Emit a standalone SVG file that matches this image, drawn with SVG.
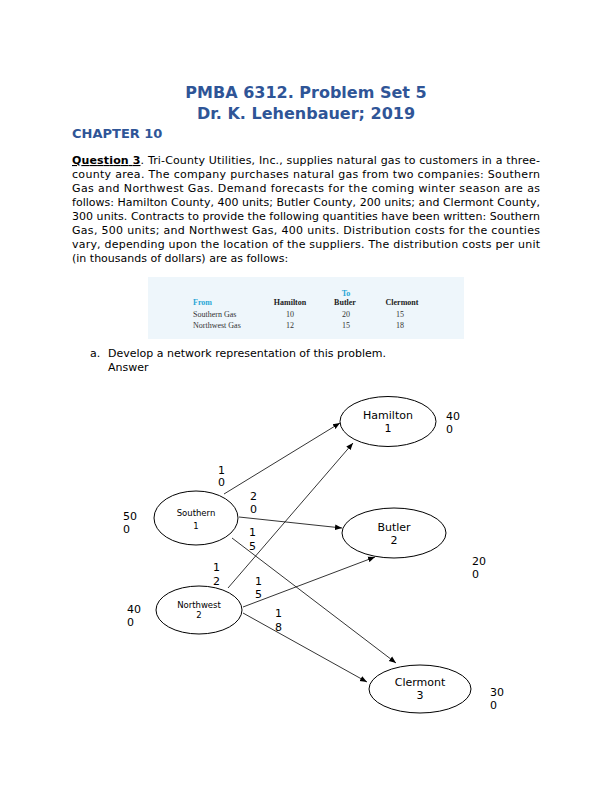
<svg xmlns="http://www.w3.org/2000/svg" width="612" height="792" viewBox="0 0 612 792">
<defs>
<marker id="arr" viewBox="0 0 10 10" refX="10" refY="5" markerWidth="7" markerHeight="7" markerUnits="userSpaceOnUse" orient="auto">
<path d="M0,1 L10,5 L0,9 z" fill="#000"/>
</marker>
<style>
.t{font-family:"DejaVu Sans",sans-serif;fill:#000}
.h{font-family:"DejaVu Sans",sans-serif;font-weight:bold;fill:#2f5597}
.p{font-size:11px}
.tb{font-family:"Liberation Serif",serif;font-size:8px;fill:#333}
.tbh{font-family:"Liberation Serif",serif;font-size:8px;font-weight:bold;fill:#222}
.cy{font-family:"Liberation Serif",serif;font-size:8px;font-weight:bold;fill:#2aa6d6}
.node{fill:#fff;stroke:#000;stroke-width:1}
.lbl{font-family:"DejaVu Sans",sans-serif;font-size:11px;fill:#000;text-anchor:middle}
.sm{font-family:"DejaVu Sans",sans-serif;font-size:8.5px;fill:#000;text-anchor:middle}
.num{font-family:"DejaVu Sans",sans-serif;font-size:11px;fill:#000}
.edge{stroke:#000;stroke-width:0.8;fill:none;marker-end:url(#arr)}
</style>
</defs>
<rect width="612" height="792" fill="#fff"/>
<text class="h" x="306" y="98" font-size="16" text-anchor="middle">PMBA 6312. Problem Set 5</text>
<text class="h" x="306" y="119" font-size="16" text-anchor="middle">Dr. K. Lehenbauer; 2019</text>
<text class="h" x="72" y="138" font-size="13">CHAPTER 10</text>
<g class="t p">
<text x="72" y="164" textLength="468" lengthAdjust="spacing"><tspan font-weight="bold" text-decoration="underline">Question 3</tspan>. Tri-County Utilities, Inc., supplies natural gas to customers in a three-</text>
<text x="72" y="178" textLength="468" lengthAdjust="spacing">county area. The company purchases natural gas from two companies: Southern</text>
<text x="72" y="192" textLength="468" lengthAdjust="spacing">Gas and Northwest Gas. Demand forecasts for the coming winter season are as</text>
<text x="72" y="206" textLength="468" lengthAdjust="spacing">follows: Hamilton County, 400 units; Butler County, 200 units; and Clermont County,</text>
<text x="72" y="220" textLength="468" lengthAdjust="spacing">300 units. Contracts to provide the following quantities have been written: Southern</text>
<text x="72" y="234" textLength="468" lengthAdjust="spacing">Gas, 500 units; and Northwest Gas, 400 units. Distribution costs for the counties</text>
<text x="72" y="248" textLength="468" lengthAdjust="spacing">vary, depending upon the location of the suppliers. The distribution costs per unit</text>
<text x="72" y="262">(in thousands of dollars) are as follows:</text>
</g>
<g id="table">
<rect x="148" y="277" width="316" height="62" fill="#eef6fb"/>
<text class="cy" x="346" y="296" text-anchor="middle">To</text>
<text class="cy" x="193" y="305">From</text>
<text class="tbh" x="290" y="305" text-anchor="middle">Hamilton</text>
<text class="tbh" x="345" y="305" text-anchor="middle">Butler</text>
<text class="tbh" x="402" y="305" text-anchor="middle">Clermont</text>
<text class="tb" x="193" y="317">Southern Gas</text>
<text class="tb" x="193" y="328">Northwest Gas</text>
<text class="tb" x="290" y="317" text-anchor="middle">10</text>
<text class="tb" x="346" y="317" text-anchor="middle">20</text>
<text class="tb" x="400" y="317" text-anchor="middle">15</text>
<text class="tb" x="290" y="328" text-anchor="middle">12</text>
<text class="tb" x="346" y="328" text-anchor="middle">15</text>
<text class="tb" x="400" y="328" text-anchor="middle">18</text>
</g>
<text class="t p" x="90" y="357">a.</text>
<text class="t p" x="108" y="357">Develop a network representation of this problem.</text>
<text class="t p" x="108" y="371">Answer</text>
<g id="connectors">
<line class="edge" x1="224" y1="494" x2="340" y2="423"/>
<line class="edge" x1="239" y1="517" x2="342" y2="528"/>
<line class="edge" x1="232" y1="538" x2="396" y2="663"/>
<line class="edge" x1="228" y1="588" x2="353" y2="443"/>
<line class="edge" x1="243" y1="607" x2="375" y2="557"/>
<line class="edge" x1="243" y1="613" x2="367" y2="682"/>
<text class="num" x="218" y="474">1</text><text class="num" x="218" y="486">0</text>
<text class="num" x="250" y="500">2</text><text class="num" x="250" y="513">0</text>
<text class="num" x="249" y="536">1</text><text class="num" x="249" y="550">5</text>
<text class="num" x="213" y="571">1</text><text class="num" x="213" y="585">2</text>
<text class="num" x="255" y="585">1</text><text class="num" x="255" y="598">5</text>
<text class="num" x="275" y="617">1</text><text class="num" x="275" y="631">8</text>
</g>
<g id="hamilton">
<ellipse class="node" cx="388" cy="421.5" rx="48" ry="25"/>
<text class="lbl" x="388" y="419">Hamilton</text>
<text class="lbl" x="388" y="432">1</text>
<text class="num" x="446" y="420">40</text><text class="num" x="446" y="433">0</text>
</g>
<g id="southern">
<ellipse class="node" cx="196" cy="518" rx="42" ry="27"/>
<text class="sm" x="196" y="516">Southern</text>
<text class="sm" x="196" y="529">1</text>
<text class="num" x="123" y="520">50</text><text class="num" x="123" y="533">0</text>
</g>
<g id="butler">
<ellipse class="node" cx="394" cy="533" rx="52" ry="25"/>
<text class="lbl" x="394" y="531">Butler</text>
<text class="lbl" x="394" y="544">2</text>
<text class="num" x="472" y="565">20</text><text class="num" x="472" y="578">0</text>
</g>
<g id="northwest">
<ellipse class="node" cx="199" cy="610" rx="43" ry="24"/>
<text class="sm" x="199" y="608">Northwest</text>
<text class="sm" x="199" y="618">2</text>
<text class="num" x="127" y="613">40</text><text class="num" x="127" y="626">0</text>
</g>
<g id="clermont">
<ellipse class="node" cx="420" cy="689" rx="51" ry="24"/>
<text class="lbl" x="420" y="686">Clermont</text>
<text class="lbl" x="420" y="699">3</text>
<text class="num" x="490" y="696">30</text><text class="num" x="490" y="709">0</text>
</g>
</svg>
